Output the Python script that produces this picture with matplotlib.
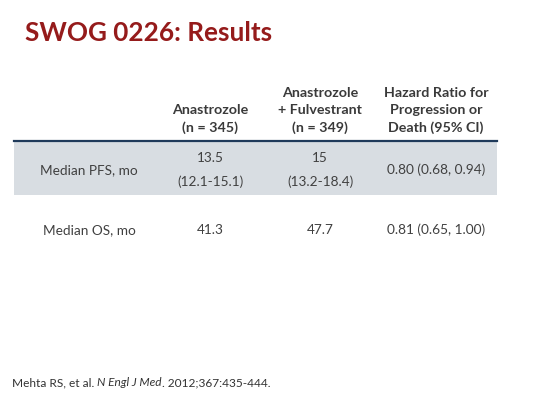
import matplotlib.pyplot as plt
from matplotlib.patches import Rectangle
from matplotlib.lines import Line2D

# slide content
title = "SWOG 0226: Results"
col_headers = ["Anastrozole\n(n = 345)",
               "Anastrozole\n+ Fulvestrant\n(n = 349)",
               "Hazard Ratio for\nProgression or\nDeath (95% CI)"]
row_labels = ["Median PFS, mo", "Median OS, mo"]
ana_vals = ["13.5\n(12.1-15.1)", "41.3"]
combo_vals = ["15\n(13.2-18.4)", "47.7"]
hr_vals = ["0.80 (0.68, 0.94)", "0.81 (0.65, 1.00)"]
footer_plain = "Mehta RS, et al. "
footer_journal = "N Engl J Med"
footer_rest = ". 2012;367:435-444."

plt.rcParams['font.family'] = ['Lato', 'DejaVu Sans']

W, H = 540, 405
fig = plt.figure(figsize=(5.4, 4.05), dpi=100)
fig.patch.set_facecolor('white')


def fx(x):
    return x / W


def fy(y):
    return 1 - y / H


# title
fig.text(fx(25), fy(33), title, fontsize=18.8, fontweight='bold',
         color='#951B1B', va='center', ha='left')

# header row
col_x = [210, 320, 436]
header_bottom = 128
for x, hdr in zip(col_x, col_headers):
    fig.text(fx(x), fy(header_bottom + 6), hdr, fontsize=10.3, fontweight='bold',
             color='#3A3A3A', ha='center', va='bottom', linespacing=1.5)

# shaded first row + rule
fig.add_artist(Rectangle((fx(14), fy(195)), fx(497 - 14), (195 - 141) / H,
                         transform=fig.transFigure, facecolor='#D8DDE2',
                         edgecolor='none', zorder=0))
fig.add_artist(Line2D([fx(14), fx(497)], [fy(141), fy(141)],
                      transform=fig.transFigure, color='#1F3A5A', lw=1.6))

# body rows
row_y = [170, 230]
for i, y in enumerate(row_y):
    fig.text(fx(89), fy(y), row_labels[i], fontsize=9.8, color='#404040',
             ha='center', va='center')
    fig.text(fx(col_x[0]), fy(y), ana_vals[i], fontsize=9.8, color='#404040',
             ha='center', va='center', linespacing=2.0)
    fig.text(fx(col_x[1]), fy(y), combo_vals[i], fontsize=9.8, color='#404040',
             ha='center', va='center', linespacing=2.0)
    fig.text(fx(col_x[2]), fy(y), hr_vals[i], fontsize=9.8, color='#404040',
             ha='center', va='center')

# reference footer
t1 = fig.text(fx(12), fy(383), footer_plain, fontsize=8.6, color='#333333',
              ha='left', va='center')
fig.canvas.draw()
bb = t1.get_window_extent()
t2 = fig.text(bb.x1 / W, fy(383), footer_journal, fontsize=8.6, color='#333333',
              style='italic', ha='left', va='center')
bb2 = t2.get_window_extent(renderer=fig.canvas.get_renderer())
fig.text(bb2.x1 / W, fy(383), footer_rest, fontsize=8.6, color='#333333',
         ha='left', va='center')

fig.savefig('out.png', dpi=100)
